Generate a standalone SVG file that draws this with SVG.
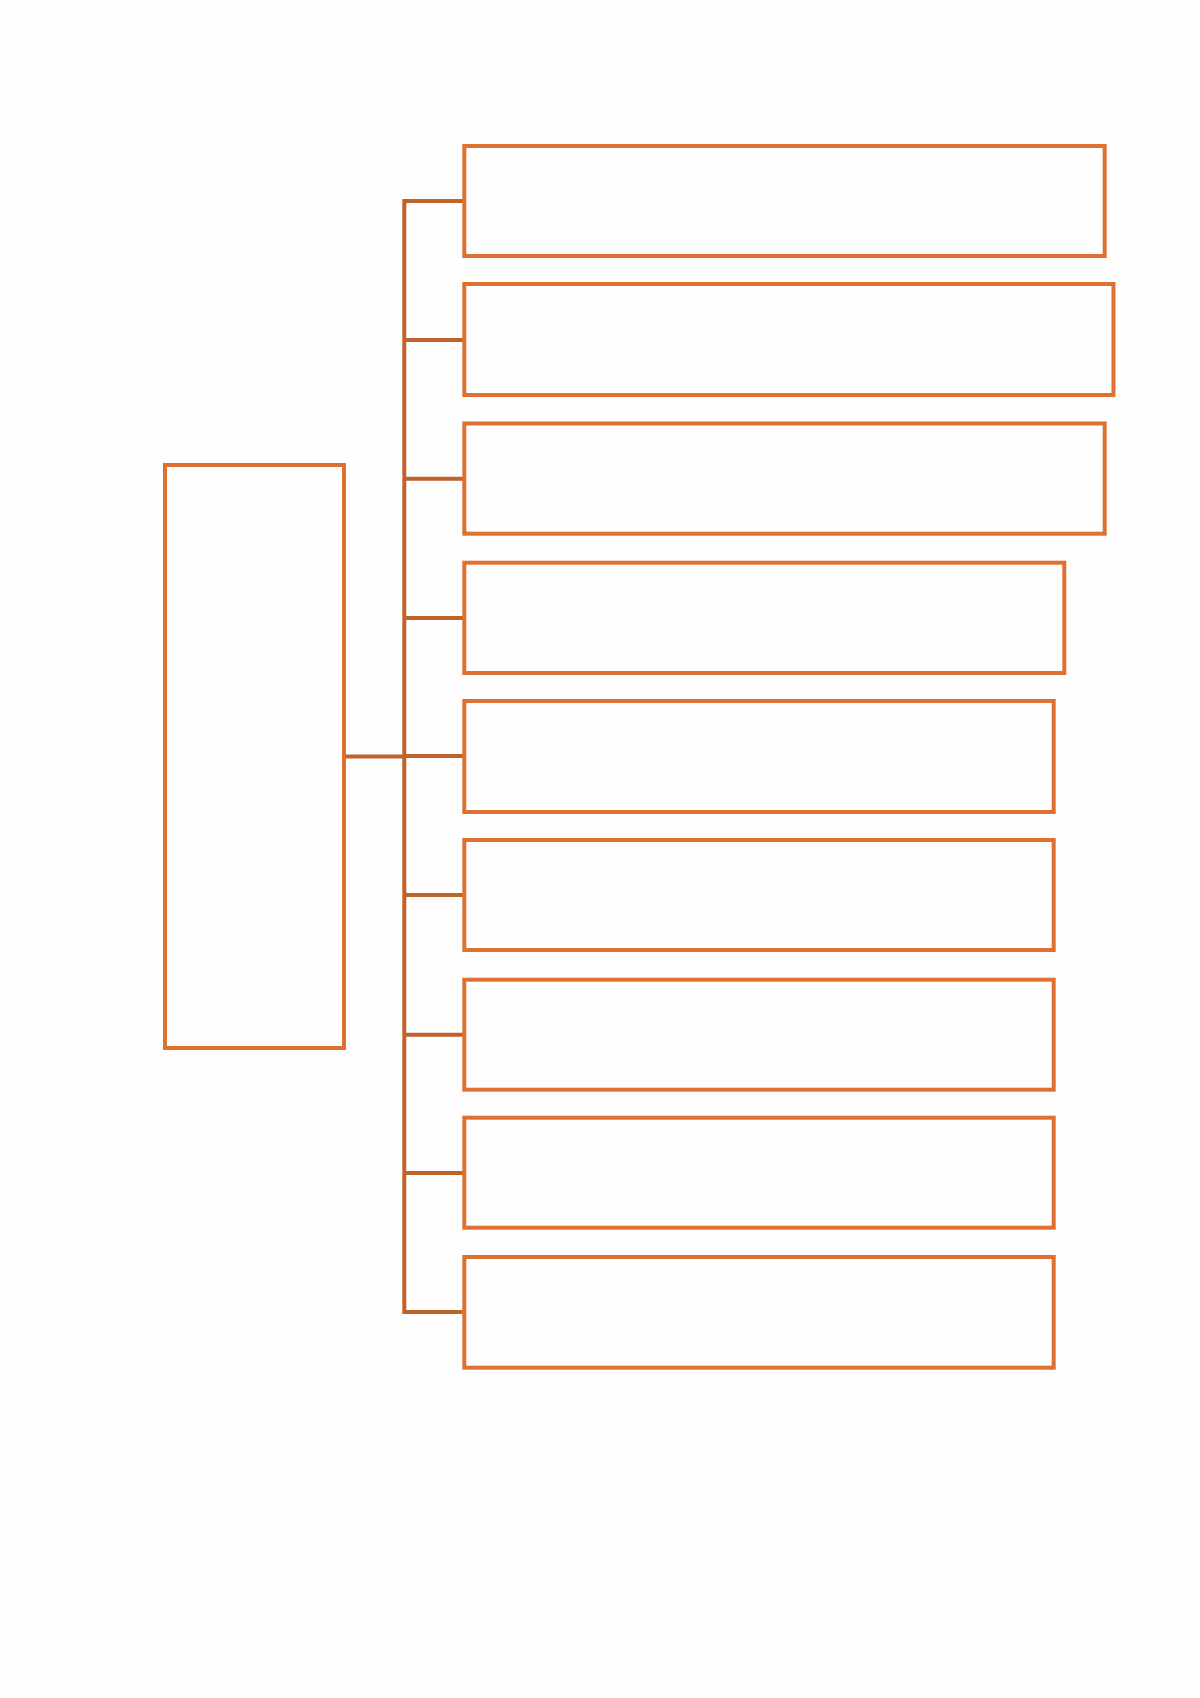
<svg xmlns="http://www.w3.org/2000/svg" width="1200" height="1698" viewBox="0 0 1200 1698">
<style>
.box{fill:none;stroke:#DE712F;stroke-width:4}
.conn{fill:none;stroke:#C0622A;stroke-width:4}
.root{fill:none;stroke:#DE712F;stroke-width:4}
</style>
<rect width="1200" height="1698" fill="#FEFEFE"/>
<g id="connectors">
<path class="conn" d="M464.3,201 H404.3 V1312 H464.3"/>
<path class="conn" d="M404.3,340 H464.3 M404.3,478.7 H464.3 M404.3,618 H464.3 M404.3,756 H464.3 M404.3,895 H464.3 M404.3,1034.7 H464.3 M404.3,1173 H464.3"/>
<path class="conn" d="M344,756.5 H404.3" stroke-width="5"/>
</g>
<g id="root"><rect class="root" x="165" y="465" width="179" height="583"/></g>
<g id="n1"><rect class="box" x="464.3" y="146" width="640.4" height="110"/></g>
<g id="n2"><rect class="box" x="464.3" y="284" width="649.2" height="111"/></g>
<g id="n3"><rect class="box" x="464.3" y="423.5" width="640.4" height="110.2"/></g>
<g id="n4"><rect class="box" x="464.3" y="562.7" width="600" height="110.3"/></g>
<g id="n5"><rect class="box" x="464.3" y="701" width="589.4" height="111"/></g>
<g id="n6"><rect class="box" x="464.3" y="840" width="589.4" height="110"/></g>
<g id="n7"><rect class="box" x="464.3" y="979.7" width="589.4" height="110"/></g>
<g id="n8"><rect class="box" x="464.3" y="1117.7" width="589.4" height="110"/></g>
<g id="n9"><rect class="box" x="464.3" y="1257" width="589.4" height="110.7"/></g>
</svg>
